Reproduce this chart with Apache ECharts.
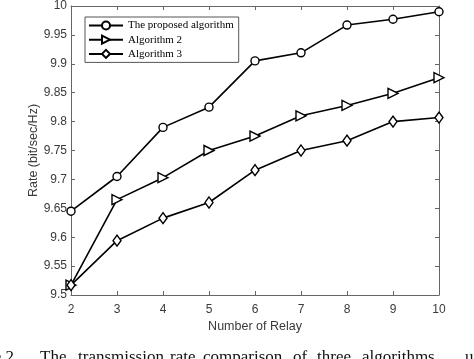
<!DOCTYPE html>
<html>
<head>
<meta charset="utf-8">
<script src="https://cdn.jsdelivr.net/npm/echarts@6/dist/echarts.min.js"></script>
<style>
html,body{margin:0;padding:0;background:#fff;}
#c{width:474px;height:359px;}
</style>
</head>
<body>
<div id="c"></div>
<script>
const relays = [2, 3, 4, 5, 6, 7, 8, 9, 10];
const proposed = [9.645, 9.705, 9.790, 9.825, 9.905, 9.919, 9.967, 9.977, 9.990];
const algorithm2 = [9.517, 9.665, 9.703, 9.750, 9.775, 9.810, 9.828, 9.849, 9.876];
const algorithm3 = [9.517, 9.594, 9.633, 9.660, 9.716, 9.750, 9.767, 9.800, 9.807];
const seriesNames = ['The proposed algorithm', 'Algorithm 2', 'Algorithm 3'];
const yTicks = [9.5, 9.55, 9.6, 9.65, 9.7, 9.75, 9.8, 9.85, 9.9, 9.95, 10];
const captionWords = ['re 2.', 'The', 'transmission', 'rate', 'comparison', 'of', 'three', 'algorithms', 'us'];
const captionX = [-12, 40, 78, 170, 203, 293, 317, 362, 465];

const axisColor = '#666';
const labelColor = '#3a3a3a';

function pairs(vals){ return relays.map((r,i)=>[r, vals[i]]); }

const chart = echarts.init(document.getElementById('c'), null, {renderer:'canvas'});

const lineStyle = {color:'#000', width:1.6};
const mk = (name, data, symbol, size, rot) => ({
  name, type:'line', data: pairs(data),
  symbol, symbolSize: size, symbolRotate: rot || 0,
  showAllSymbol: true,
  lineStyle, itemStyle:{color:'#fff', borderColor:'#000', borderWidth:1.4},
  emphasis:{disabled:true}, animation:false, z: 3
});

chart.setOption({
  animation:false,
  backgroundColor:'#fff',
  grid:{left:71, right:35, top:5, bottom:64, show:false},
  legend:{
    data: seriesNames,
    orient:'vertical',
    left:85, top:17,
    padding:[3,5,3,3],
    itemWidth:34, itemHeight:10, itemGap:3.2, itemTextGap:5,
    backgroundColor:'#fff',
    borderColor:'#555', borderWidth:1,
    textStyle:{fontFamily:'Liberation Serif', fontSize:11, color:'#000'},
    selectedMode:false
  },
  xAxis:[{
    type:'value', min:2, max:10, interval:1,
    name:'Number of Relay', nameLocation:'middle', nameGap:25,
    nameMoveOverlap:false,
    nameTextStyle:{fontFamily:'Liberation Sans', fontSize:12.5, color:labelColor},
    axisLine:{show:true, lineStyle:{color:axisColor, width:1}},
    axisTick:{show:true, inside:true, length:4, lineStyle:{color:axisColor}},
    axisLabel:{fontFamily:'Liberation Sans', fontSize:12, color:labelColor, margin:9},
    splitLine:{show:false}
  },{
    type:'value', min:2, max:10, interval:1, position:'top',
    axisLine:{show:true, onZero:false, lineStyle:{color:axisColor, width:1}},
    axisTick:{show:true, inside:true, length:4, lineStyle:{color:axisColor}},
    axisLabel:{show:false}, splitLine:{show:false}
  }],
  yAxis:[{
    type:'value', min:9.5, max:10, interval:0.05,
    name:'Rate (bit/sec/Hz)', nameLocation:'middle', nameGap:31,
    nameMoveOverlap:false,
    nameTextStyle:{fontFamily:'Liberation Sans', fontSize:12.5, color:labelColor},
    axisLine:{show:true, lineStyle:{color:axisColor, width:1}},
    axisTick:{show:true, inside:true, length:4, lineStyle:{color:axisColor}},
    axisLabel:{fontFamily:'Liberation Sans', fontSize:12, color:labelColor, margin:4,
      formatter: v => { const t = yTicks.find(x => Math.abs(x - v) < 1e-6); return t === undefined ? '' : String(t); }},
    splitLine:{show:false}
  },{
    type:'value', min:9.5, max:10, interval:0.05, position:'right',
    axisLine:{show:true, onZero:false, lineStyle:{color:axisColor, width:1}},
    axisTick:{show:true, inside:true, length:4, lineStyle:{color:axisColor}},
    axisLabel:{show:false}, splitLine:{show:false}
  }],
  series:[
    mk(seriesNames[0], proposed, 'circle', 8),
    mk(seriesNames[1], algorithm2, 'triangle', 10, -90),
    mk(seriesNames[2], algorithm3, 'diamond', [8,11])
  ],
  graphic: captionWords.map((w,i)=>({
    type:'text', left: captionX[i], top: 349, silent:true,
    style:{text:w, font:'17px "Liberation Serif"', fill:'#111'}
  }))
});
</script>
</body>
</html>
